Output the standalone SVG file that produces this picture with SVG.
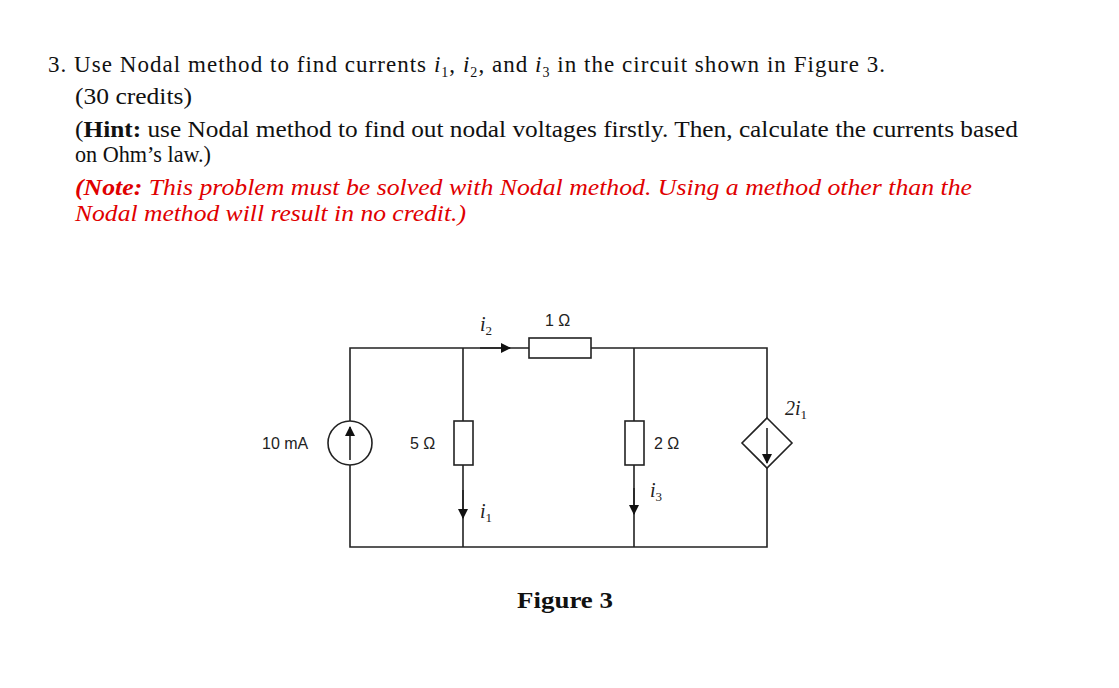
<svg xmlns="http://www.w3.org/2000/svg" width="1119" height="688" viewBox="0 0 1119 688">
<style>
.t{font-family:"Liberation Serif","DejaVu Serif",serif;font-size:23px;fill:#111}
.r{fill:#e00000;font-style:italic}
.s{font-family:"Liberation Sans","DejaVu Sans",sans-serif;font-size:16px;fill:#222}
.m{font-family:"Liberation Serif",serif;font-style:italic;font-size:20px;fill:#222}
.sub{font-size:14px}
.w{stroke:#222;stroke-width:1.6;fill:none}
.b{stroke:#222;stroke-width:1.6;fill:#fff}
</style>
<defs><marker id="a" viewBox="0 0 10 10" refX="9" refY="5" markerWidth="11" markerHeight="10" orient="auto" markerUnits="userSpaceOnUse"><path d="M0,0L10,5L0,10z" fill="#111"/></marker></defs>
<rect width="1119" height="688" fill="#fff"/>
<text class="t" x="48" y="72" textLength="837" lengthAdjust="spacing">3. Use Nodal method to find currents <tspan font-style="italic">i</tspan><tspan class="sub" dy="5">1</tspan><tspan dy="-5">,  </tspan><tspan font-style="italic">i</tspan><tspan class="sub" dy="5">2</tspan><tspan dy="-5">, and </tspan><tspan font-style="italic">i</tspan><tspan class="sub" dy="5">3</tspan><tspan dy="-5"> in the circuit shown in Figure 3.</tspan></text>
<text class="t" x="75" y="104" textLength="117" lengthAdjust="spacingAndGlyphs">(30 credits)</text>
<text class="t" x="75" y="137" textLength="943" lengthAdjust="spacingAndGlyphs">(<tspan font-weight="bold">Hint:</tspan> use Nodal method to find out nodal voltages firstly. Then, calculate the currents based</text>
<text class="t" x="75" y="162" textLength="136" lengthAdjust="spacingAndGlyphs">on Ohm’s law.)</text>
<text class="t r" x="75" y="195" textLength="897" lengthAdjust="spacingAndGlyphs"><tspan font-weight="bold">(Note:</tspan> This problem must be solved with Nodal method. Using a method other than the</text>
<text class="t r" x="75" y="221" textLength="391" lengthAdjust="spacingAndGlyphs">Nodal method will result in no credit.)</text>
<g id="wires">
<path class="w" d="M350,421V348H529M591,348H767V418M767,468V547H350V465M463,348V421M463,465V547M634,348V421M634,465V547"/>
<line class="w" x1="480" y1="348" x2="510" y2="348" marker-end="url(#a)"/>
<line class="w" x1="463" y1="490" x2="463" y2="518" marker-end="url(#a)"/>
<line class="w" x1="634" y1="488" x2="634" y2="514" marker-end="url(#a)"/>
</g>
<g id="src"><circle class="b" cx="350" cy="443" r="22"/><line class="w" x1="350" y1="460" x2="350" y2="427" marker-end="url(#a)"/><text class="s" x="262" y="449">10 mA</text></g>
<g id="r5"><rect class="b" x="454" y="421" width="19" height="44"/><text class="s" x="410" y="449">5 Ω</text></g>
<g id="r1"><rect class="b" x="529" y="338" width="62" height="20"/><text class="s" x="545" y="326">1 Ω</text></g>
<g id="r2"><rect class="b" x="625" y="421" width="19" height="44"/><text class="s" x="654" y="449">2 Ω</text></g>
<g id="dep"><path class="b" d="M767,418L792,443L767,468L742,443Z"/><line class="w" x1="767" y1="428" x2="767" y2="463" marker-end="url(#a)"/><text class="m" x="785" y="415">2<tspan>i</tspan><tspan font-size="13" font-style="normal" dy="4">1</tspan></text></g>
<text class="m" x="480" y="331">i<tspan font-size="13" font-style="normal" dy="4">2</tspan></text>
<text class="m" x="480" y="518">i<tspan font-size="13" font-style="normal" dy="4">1</tspan></text>
<text class="m" x="650" y="497">i<tspan font-size="13" font-style="normal" dy="4">3</tspan></text>
<text class="t" x="517" y="608" font-weight="bold" textLength="96" lengthAdjust="spacingAndGlyphs">Figure 3</text>
</svg>
